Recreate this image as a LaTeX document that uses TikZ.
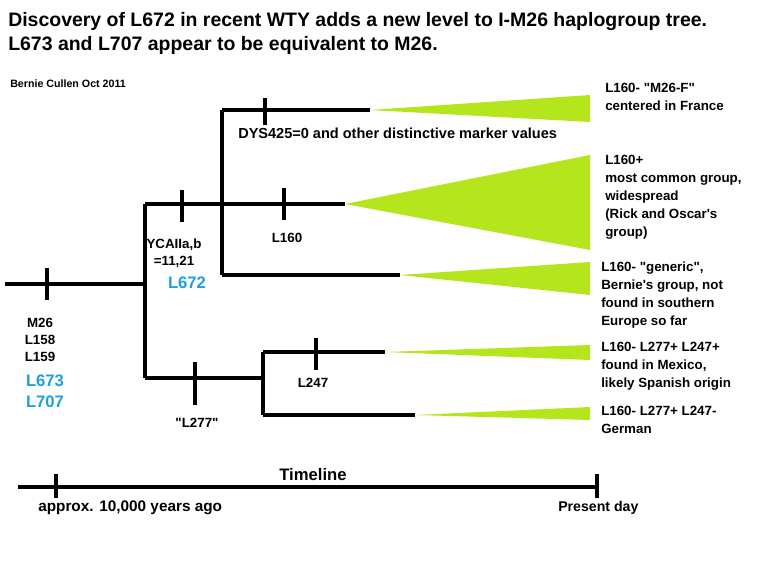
\documentclass[tikz,border=0pt]{standalone}
\usepackage{fontspec}
\setmainfont{Liberation Sans}[Ligatures=TeXOff]
\definecolor{wedge}{RGB}{181,230,29}
\definecolor{blu}{RGB}{30,160,220}
\newcommand{\qq}{\symbol{34}}
\newcommand{\ap}{\symbol{39}}
\begin{document}
\begin{tikzpicture}[x=0.75pt,y=-0.75pt,
  br/.style={line width=3.2pt},
  tk/.style={line width=3pt},
  wg/.style={fill=wedge,draw=none},
  lb/.style={font=\bfseries\fontsize{10}{12}\selectfont,align=left,inner sep=0pt},
  lbc/.style={font=\bfseries\fontsize{10}{12.5}\selectfont,align=center,inner sep=0pt},
  bl/.style={font=\bfseries\fontsize{12.5}{16}\selectfont,text=blu,align=center,inner sep=0pt}]
\useasboundingbox[fill=white] (0,0) rectangle (778,584);
% title
\node[anchor=north west,inner sep=0pt,align=left,font=\bfseries\fontsize{14.6}{18}\selectfont] (title) at (8,12)
 {Discovery of L672 in recent WTY adds a new level to I-M26 haplogroup tree.\\L673 and L707 appear to be equivalent to M26.};
\node[anchor=north west,inner sep=0pt,font=\bfseries\fontsize{8}{10}\selectfont] (auth) at (10,80) {Bernie Cullen Oct 2011};
% coordinates
\coordinate (r0) at (5,284); \coordinate (r1) at (145,284);
\coordinate (a1) at (145,204); \coordinate (a2) at (145,378);
\coordinate (b0) at (222,204); \coordinate (b1) at (222,110); \coordinate (b2) at (222,275);
\coordinate (t1) at (370,110); \coordinate (m1) at (345,204); \coordinate (l1) at (400,275);
\coordinate (c0) at (263,378); \coordinate (c1) at (263,352); \coordinate (c2) at (263,415);
\coordinate (d1) at (385,352); \coordinate (e1) at (415,415);
% wedges
\fill[wg] (t1) -- (590,95) -- (590,122) -- cycle;
\fill[wg] (m1) -- (590,155) -- (590,250) -- cycle;
\fill[wg] (l1) -- (590,262) -- (590,295) -- cycle;
\fill[wg] (d1) -- (590,345) -- (590,360) -- cycle;
\fill[wg] (e1) -- (590,407) -- (590,420) -- cycle;
% branches
\draw[br] (r0) -- (r1);
\draw[br] (a1) -- (a2);
\draw[br] (a1) -- (m1);
\draw[br] (b1) -- (b2);
\draw[br] (b1) -- (t1);
\draw[br] (b2) -- (l1);
\draw[br] (a2) -- (c0);
\draw[br] (c1) -- (c2);
\draw[br] (c1) -- (d1);
\draw[br] (c2) -- (e1);
% ticks
\draw[tk] (47,268) -- (47,300);
\draw[tk] (182,190) -- (182,222);
\draw[tk] (284,188) -- (284,220);
\draw[tk] (265,98) -- (265,125);
\draw[tk] (195,362) -- (195,405);
\draw[tk] (316,338) -- (316,370);
% timeline
\coordinate (tl0) at (18,487); \coordinate (tl1) at (597,487);
\draw[br] (tl0) -- (tl1);
\draw[tk] (56,474) -- (56,498);
\draw[tk] (597,474) -- (597,498);
\node[font=\bfseries\fontsize{12.5}{14}\selectfont,inner sep=0pt] (tlt) at (313,475) {Timeline};
\node[lb,anchor=west,font=\bfseries\fontsize{11.5}{13}\selectfont] (tla) at (38,508) {approx. 10,000 years ago};
\node[lb,anchor=west,font=\bfseries\fontsize{10.6}{13}\selectfont] (tlb) at (558,508) {Present day};
% branch labels
\node[lbc] (m26) at (40,340) {M26\\L158\\L159};
\node[bl] (l673) at (45,391) {L673\\L707};
\node[lbc] (ycaii) at (174,253) {YCAIIa,b\\=11,21};
\node[bl] (l672) at (187,283) {L672};
\node[lb,anchor=west,font=\bfseries\fontsize{10.9}{13}\selectfont] (dys) at (238,133) {DYS425=0 and other distinctive marker values};
\node[lb] (l160) at (287,238) {L160};
\node[lb] (l247) at (313,383) {L247};
\node[lb] (l277) at (197,423) {\qq L277\qq};
% right labels
\node[lb,anchor=north west,font=\bfseries\fontsize{10}{13.5}\selectfont] (g1) at (605,83) {L160- \qq M26-F\qq\\centered in France};
\node[lb,anchor=north west,font=\bfseries\fontsize{10}{13.5}\selectfont] (g2) at (605,155) {L160+\\most common group,\\widespread\\(Rick and Oscar\ap s\\group)};
\node[lb,anchor=north west,font=\bfseries\fontsize{10}{13.5}\selectfont] (g3) at (601,262) {L160- \qq generic\qq ,\\Bernie\ap s group, not\\found in southern\\Europe so far};
\node[lb,anchor=north west,font=\bfseries\fontsize{10}{13.5}\selectfont] (g4) at (601,342) {L160- L277+ L247+\\found in Mexico,\\likely Spanish origin};
\node[lb,anchor=north west,font=\bfseries\fontsize{10}{13.5}\selectfont] (g5) at (601,406) {L160- L277+ L247-\\German};
\end{tikzpicture}
\end{document}
